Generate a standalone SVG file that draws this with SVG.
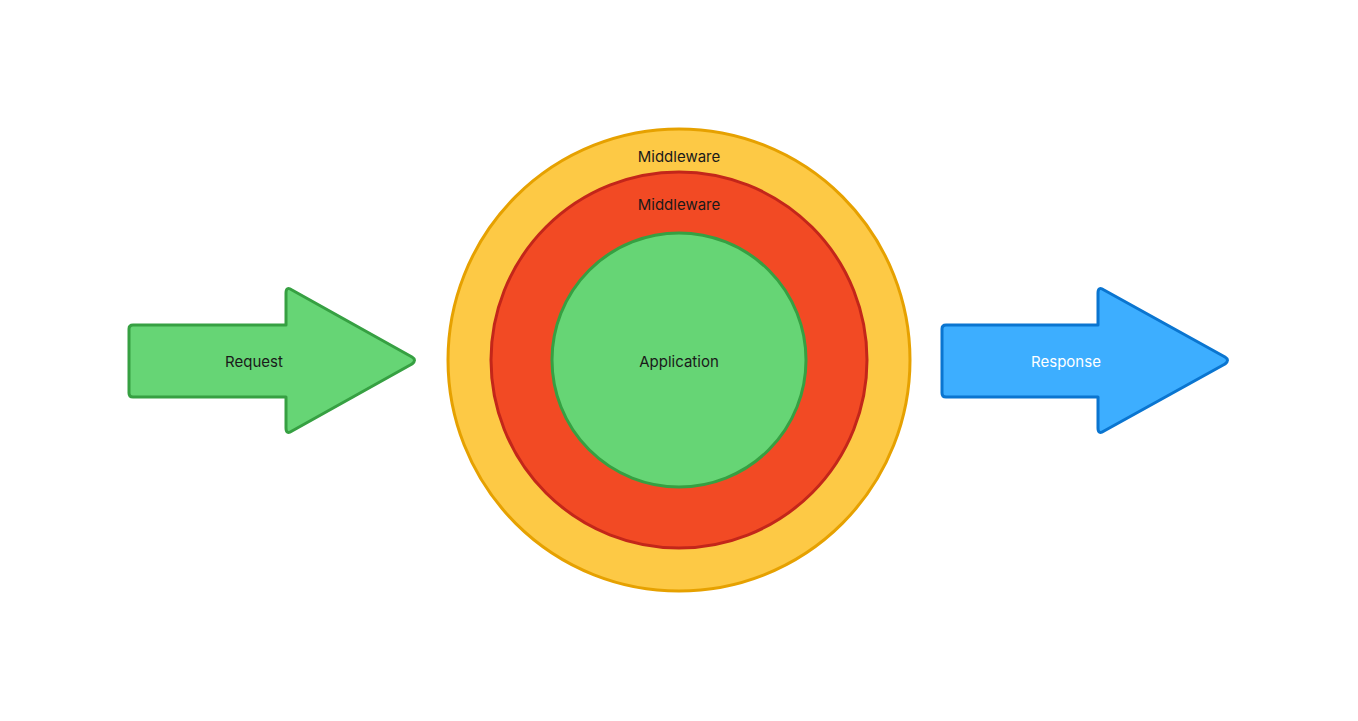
<svg xmlns="http://www.w3.org/2000/svg" width="1358" height="721" viewBox="0 0 1358 721">
<style>
text{font-family:Inter,"Noto Sans",sans-serif;font-size:15px;text-anchor:middle;dominant-baseline:central;fill:#1a1a1a}
.s{stroke-width:3;stroke-linejoin:round}
</style>
<rect width="1358" height="721" fill="#fff"/>
<g id="outer"><circle class="s" cx="679" cy="360" r="231" fill="#FDC945" stroke="#E6A100"/><text x="679" y="156">Middleware</text></g>
<g id="inner"><circle class="s" cx="679" cy="360" r="188" fill="#F24A24" stroke="#C3261A"/><text x="679" y="204">Middleware</text></g>
<g id="app"><circle class="s" cx="679" cy="360" r="127" fill="#66D575" stroke="#36A042"/><text x="679" y="361">Application</text></g>
<g id="request"><path class="s" d="M133 325 H286 V293 Q286 286 292 290 L412 357 Q417 360 412 364 L292 431 Q286 435 286 428 V397 H133 Q129 397 129 393 V329 Q129 325 133 325 Z" fill="#66D575" stroke="#36A042"/><text x="254" y="361">Request</text></g>
<g id="response"><path class="s" d="M946 325 H1098 V293 Q1098 286 1104 290 L1225 357 Q1230 360 1225 364 L1104 431 Q1098 435 1098 428 V397 H946 Q942 397 942 393 V329 Q942 325 946 325 Z" fill="#3DAEFF" stroke="#0A75D0"/><text x="1066" y="361" style="fill:#fff">Response</text></g>
<g id="connectors"/>
</svg>
